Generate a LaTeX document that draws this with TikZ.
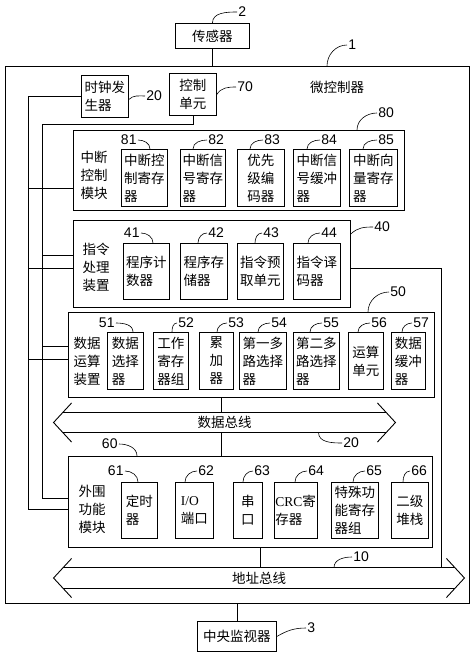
\documentclass[tikz,border=0pt]{standalone}
\usepackage{fontspec}
\setmainfont{Liberation Sans}
\newfontfamily\cjk{Noto Sans CJK SC}
\newfontfamily\latinserif{Liberation Serif}
\usetikzlibrary{%
    calc,
    positioning
}
\tikzset{
    modbox/.style   = {draw, anchor=north west, inner sep=0pt},
    unitbox/.style  = {draw, anchor=north west, inner sep=1pt, align=left,
                       font=\cjk\fontsize{13.5}{18}\selectfont},
    cntext/.style   = {inner sep=0pt, align=left, font=\cjk\fontsize{13.5}{18}\selectfont},
    numlabel/.style = {inner sep=1pt, font=\fontsize{14}{14}\selectfont},
    leader/.style   = {line width=.6pt},
    busbody/.style  = {inner sep=0pt, minimum height=19pt, font=\cjk\fontsize{13.5}{18}\selectfont}
}

\begin{document}
\begin{tikzpicture}[x=1pt, y=-1pt, line width=.9pt]
    \useasboundingbox (0,0) rectangle (474,656);

    \node[unitbox, minimum width=74pt, minimum height=25pt] (sensor) at (175,23) {传感器};
    \node[modbox, minimum width=464pt, minimum height=537pt] (mcu) at (5,66) {};
    \node[cntext] (mcutext) at (337,87) {微控制器};
    \node[unitbox, minimum width=47pt, minimum height=42pt] (clk) at (81,75) {时钟发\\生器};
    \node[unitbox, minimum width=47pt, minimum height=42pt] (ctrl) at (169,73) {控制\\单元};
    \node[unitbox, minimum width=79pt, minimum height=30pt] (monitor) at (197,621) {中央监视器};

    \node[modbox, minimum width=331pt, minimum height=80pt] (m80) at (73,130) {};
    \node[modbox, minimum width=277pt, minimum height=87pt] (m40) at (73,220) {};
    \node[modbox, minimum width=366pt, minimum height=85pt] (m50) at (68,312) {};
    \node[modbox, minimum width=364pt, minimum height=91pt] (m60) at (68,456) {};
    \node[cntext] (t80) at (94,175) {中断\\控制\\模块};
    \node[cntext] (t40) at (96,267) {指令\\处理\\装置};
    \node[cntext] (t50) at (87,361) {数据\\运算\\装置};
    \node[cntext] (t60) at (92,509) {外围\\功能\\模块};

    \foreach \Name/\X/\W/\Text in {%
        81/121/46/{中断控\\制寄存\\器},
        82/180/45/{中断信\\号寄存\\器},
        83/237/47/{优先\\级编\\码器},
        84/293/47/{中断信\\号缓冲\\器},
        85/349/48/{中断向\\量寄存\\器}%
    }
        \node[unitbox, minimum width=\W pt, minimum height=57pt] (u\Name) at (\X,149) {\Text};
    \foreach \Name/\X/\W/\Text in {%
        41/123/46/{程序计\\数器},
        42/180/47/{程序存\\储器},
        43/237/46/{指令预\\取单元},
        44/293/47/{指令译\\码器}%
    }
        \node[unitbox, minimum width=\W pt, minimum height=56pt] (u\Name) at (\X,243) {\Text};
    \foreach \Name/\X/\W/\Text in {%
        51/107/36/{数据\\选择\\器},
        52/153/35/{工作\\寄存\\器组},
        53/199/34/{累\\加\\器},
        54/239/47/{第一多\\路选择\\器},
        55/293/46/{第二多\\路选择\\器},
        56/348/35/{运算\\单元},
        57/391/34/{数据\\缓冲\\器}%
    }
        \node[unitbox, minimum width=\W pt, minimum height=57pt] (u\Name) at (\X,332) {\Text};
    \foreach \Name/\X/\W/\Text in {%
        61/121/36/{定时\\器},
        62/175/38/{{\latinserif I/O}\\端口},
        63/233/29/{串\\口},
        64/274/39/{{\latinserif CRC}寄\\存器},
        65/331/47/{特殊功\\能寄存\\器组},
        66/391/37/{二级\\堆栈}%
    }
        \node[unitbox, minimum width=\W pt, minimum height=56pt] (u\Name) at (\X,482) {\Text};

    \node[busbody, minimum width=323pt] (dbus) at (224.5,422.5) {数据总线};
    \node[busbody, minimum width=392pt, minimum height=20pt] (abus) at (259,578) {地址总线};
    \foreach \Bus in {dbus, abus}
    {
        \draw (\Bus.north west) -- (\Bus.north east)
              (\Bus.south west) -- (\Bus.south east);
        \draw ([shift={(9pt,19.5pt)}]\Bus.west) -- ([xshift=-9pt]\Bus.west) -- ([shift={(9pt,-19.5pt)}]\Bus.west)
              ([shift={(-9pt,19.5pt)}]\Bus.east) -- ([xshift=9pt]\Bus.east) -- ([shift={(-9pt,-19.5pt)}]\Bus.east);
    }

    \draw (sensor.south) -- (sensor.south |- mcu.north);
    \draw (monitor.north) -- (monitor.north |- mcu.south);

    \coordinate (clkend) at (28,509);
    \draw (clk.west) -| (clkend) -- (clkend -| m60.west);
    \foreach \Module/\Shift in {80/-18, 40/-4.5, 50/-4.5}
        \draw ([yshift=\Shift pt]m\Module.west) -| (clkend);

    \coordinate (ctrlturn) at (42,124);
    \draw (ctrl.south) |- (ctrlturn) |- ([yshift=4pt]m60.west);
    \foreach \Module in {40,50}
        \draw ([yshift=8.5pt]m\Module.west) -| (ctrlturn);

    \coordinate (irline) at (441,0);
    \draw ([yshift=-4.5pt]m40.east) -| (irline |- abus.north);
    \coordinate (dtap) at (221,0);
    \draw (dtap |- m50.south) -- (dtap |- dbus.north);
    \draw (dtap |- dbus.south) -- (dtap |- m60.north);
    \coordinate (atap) at (260,0);
    \draw (atap |- m60.south) -- (atap |- abus.north);

    \node[numlabel, anchor=west] (n2) at (237,12) {2};
    \draw[leader] (sensor.north) to[out=90, in=180] (n2.west);
    \node[numlabel, anchor=west] (n1) at (347,45) {1};
    \draw[leader] ([xshift=322pt]mcu.north west) to[out=90, in=180] (n1.west);
    \node[numlabel, anchor=west] (n20a) at (145,96) {20};
    \draw[leader] ([yshift=-3pt]clk.east) to[out=45, in=180] (n20a.west);
    \node[numlabel, anchor=west] (n70) at (236,87) {70};
    \draw[leader] (ctrl.east) to[out=60, in=180] (n70.west);
    \node[numlabel, anchor=west] (n80) at (377,113) {80};
    \draw[leader] ([xshift=284pt]m80.north west) to[out=90, in=180] (n80.west);
    \node[numlabel, anchor=west] (n40) at (373,227) {40};
    \draw[leader] ([yshift=-14pt]m40.north east) to[out=45, in=180] (n40.west);
    \node[numlabel, anchor=west] (n50) at (389,292) {50};
    \draw[leader] ([xshift=300pt]m50.north west) to[out=90, in=180] (n50.west);
    \node[numlabel, anchor=east] (n60) at (119,444) {60};
    \draw[leader] (n60.east) to[out=0, in=90] ([xshift=69pt]m60.north west);
    \node[numlabel, anchor=west] (n20b) at (342,443) {20};
    \draw[leader] ([xshift=94pt]dbus.south) to[out=-90, in=180] (n20b.west);
    \node[numlabel, anchor=west] (n10) at (352,557) {10};
    \draw[leader] ([xshift=75pt]abus.north) to[out=90, in=180] (n10.west);
    \node[numlabel, anchor=west] (n3) at (306,628) {3};
    \draw[leader] (monitor.east) to[out=30, in=180] (n3.west);

    \foreach \Name/\Start/\Left/\Up in {%
        82/13/27/9, 83/13/26/9, 84/14/27/9, 85/14/28/9,
        42/18/27/10, 43/18/25/10, 44/15/27/10,
        52/19/24/9, 53/18/28/9, 54/19/31/9, 55/17/29/9, 56/10/22/9, 57/11/21/9,
        62/10/22/11, 63/10/20/11, 64/21/33/11, 65/22/34/11, 66/12/19/11%
    }
    {
        \node[numlabel, anchor=west] (n\Name) at ([shift={(\Left pt,\Up pt)}]u\Name.north west) {\Name};
        \draw[leader] ([xshift=\Start pt]u\Name.north west) to[out=90, in=180] (n\Name.west);
    }
    \foreach \Name/\Right/\End/\Up in {81/17/29/9, 41/18/30/10, 51/9/26/9, 61/4/17/11}
    {
        \node[numlabel, anchor=east] (n\Name) at ([shift={(\Right pt,\Up pt)}]u\Name.north west) {\Name};
        \draw[leader] (n\Name.east) to[out=0, in=90] ([xshift=\End pt]u\Name.north west);
    }
\end{tikzpicture}
\end{document}
